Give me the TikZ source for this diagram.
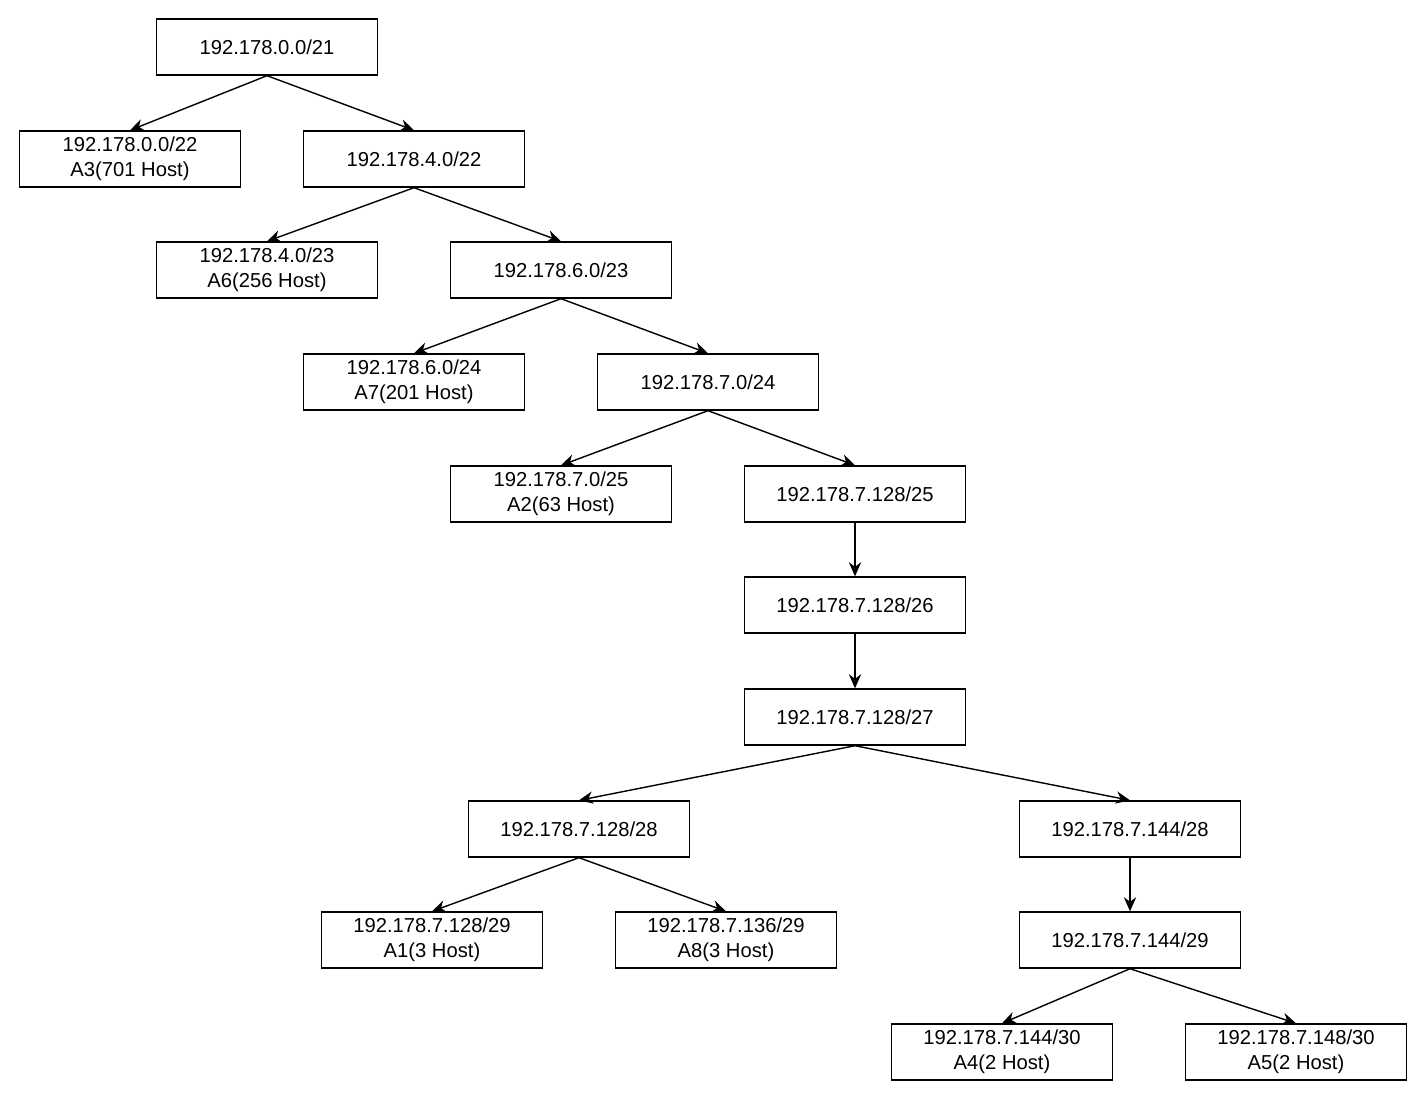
\documentclass[tikz,border=0pt]{standalone}
\usepackage{fontspec}
\setmainfont{Liberation Sans}
\usetikzlibrary{arrows.meta}
\tikzset{
  net/.style={draw,thick,minimum width=4.42cm,minimum height=1.12cm,inner sep=1pt,align=center,font=\fontsize{11.5}{14}\selectfont},
  sub/.style={-{Stealth[length=8pt,width=7pt]},thick}
}
\begin{document}
\begin{tikzpicture}[x=0.02cm,y=-0.02cm]
      \useasboundingbox (0,0) rectangle (1426,1101);
      % Tree of subnets
      \node[net] (r) at (267,47) {192.178.0.0/21};
      \node[net] (a3) at (130,159) {192.178.0.0/22\\A3(701 Host)};
      \node[net] (b22) at (414,159) {192.178.4.0/22};
      \node[net] (a6) at (267,270) {192.178.4.0/23\\A6(256 Host)};
      \node[net] (b23) at (561,270) {192.178.6.0/23};
      \node[net] (a7) at (414,382) {192.178.6.0/24\\A7(201 Host)};
      \node[net] (b24) at (708,382) {192.178.7.0/24};
      \node[net] (a2) at (561,494) {192.178.7.0/25\\A2(63 Host)};
      \node[net] (b25) at (855,494) {192.178.7.128/25};
      \node[net] (b26) at (855,605) {192.178.7.128/26};
      \node[net] (b27) at (855,717) {192.178.7.128/27};
      \node[net] (l28) at (579,829) {192.178.7.128/28};
      \node[net] (r28) at (1130,829) {192.178.7.144/28};
      \node[net] (a1) at (432,940) {192.178.7.128/29\\A1(3 Host)};
      \node[net] (a8) at (726,940) {192.178.7.136/29\\A8(3 Host)};
      \node[net] (r29) at (1130,940) {192.178.7.144/29};
      \node[net] (a4) at (1002,1052) {192.178.7.144/30\\A4(2 Host)};
      \node[net] (a5) at (1296,1052) {192.178.7.148/30\\A5(2 Host)};
      % Splits
      \foreach \p/\c in {r/a3,r/b22,b22/a6,b22/b23,b23/a7,b23/b24,b24/a2,b24/b25,
        b25/b26,b26/b27,b27/l28,b27/r28,l28/a1,l28/a8,r28/r29,r29/a4,r29/a5}
        \draw[sub] (\p.south) -- (\c.north);
\end{tikzpicture}
\end{document}
